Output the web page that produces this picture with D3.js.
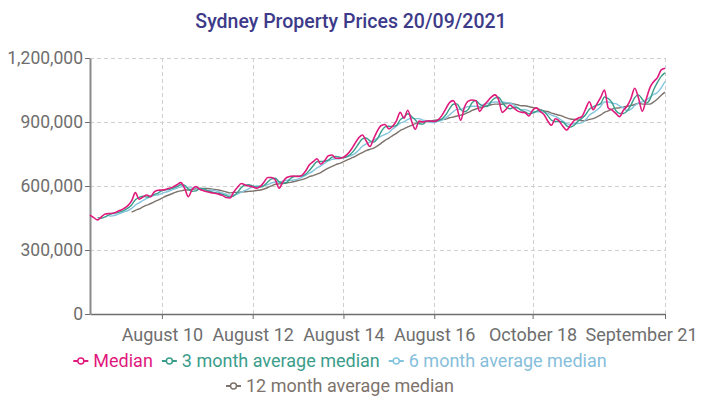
<!DOCTYPE html>
<html>
<head>
<meta charset="utf-8">
<script src="https://cdn.jsdelivr.net/npm/d3@7/dist/d3.min.js"></script>
<style>
html,body{margin:0;padding:0;background:#fff;}
svg{display:block;font-family:Roboto,"Noto Sans",sans-serif;}
</style>
</head>
<body>
<svg id="chart" width="708" height="402"></svg>
<script>
// ---- data (values in thousands of AUD, monthly Jan 2009 – Sep 2021) ----
const startMonth = new Date(2009, 0, 1);
const endMonth = new Date(2021, 8, 1);
const tickMonths = ["August 10","August 12","August 14","August 16","October 18","September 21"];
const yTicks = [0, 300000, 600000, 900000, 1200000];
const seriesNames = ["Median","3 month average median","6 month average median","12 month average median"];
const seriesColors = ["#e0197d","#3a9d8b","#82c4de","#7d736c"];
const legendTextColors = ["#e0197d","#3a9d8b","#86bedb","#7d736c"];

const median = [464,452,441,455,469,471,472,478,486,495,508,530,569,538,548,558,550,572,580,581,584,589,596,606,616,590,550,584,597,585,578,573,569,566,562,556,546,544,572,594,612,605,600,596,590,598,618,640,640,628,590,620,640,645,647,645,650,670,700,714,728,702,718,742,745,730,730,735,748,770,798,825,839,812,785,822,860,884,888,868,880,905,945,918,955,905,866,905,900,905,905,903,910,930,960,990,1000,966,908,970,998,1003,1000,950,975,995,1015,1027,1005,945,960,980,966,952,946,944,928,955,966,950,935,905,885,915,905,880,862,885,907,918,925,960,995,958,985,1015,1050,966,956,940,925,955,975,1010,1058,1012,950,1005,1060,1089,1108,1144,1152];

const avg3 = [null,null,452,449,455,465,471,474,479,486,496,511,536,546,552,548,552,560,567,578,582,585,590,597,606,604,585,575,577,589,587,579,573,569,566,561,555,549,554,570,593,604,606,600,595,595,602,619,633,636,619,613,617,635,644,646,647,655,673,695,714,715,716,721,735,739,735,732,738,751,772,798,821,825,812,806,822,855,877,880,879,884,910,923,939,926,909,892,890,903,903,904,906,914,933,960,983,985,958,948,959,990,1000,984,975,973,995,1012,1016,992,970,962,969,966,955,947,939,942,950,957,950,930,908,902,902,900,882,876,885,903,917,934,960,971,979,986,1017,1010,991,954,940,940,952,980,1014,1027,1007,989,1005,1051,1086,1114,1130];

const avg6 = [null,null,null,null,null,459,460,465,472,479,485,495,511,521,532,542,549,556,558,565,571,576,584,590,596,597,591,591,590,587,581,578,581,578,572,567,562,557,558,562,571,579,588,596,600,600,601,607,614,619,619,623,627,627,628,632,641,650,660,671,685,694,706,718,725,728,728,734,738,743,752,768,786,798,805,814,824,834,842,851,867,880,895,901,912,918,916,916,908,906,898,897,904,908,918,933,948,959,959,966,972,974,974,972,982,986,990,994,994,994,991,989,980,968,958,958,952,948,948,948,946,940,932,926,916,904,892,889,892,893,896,910,932,944,956,973,994,994,988,986,975,966,953,960,977,990,994,1002,1016,1029,1038,1060,1090];

const avg12 = [null,null,null,null,null,null,null,null,null,null,null,478,486,493,502,510,517,526,534,543,552,559,566,573,577,581,581,584,587,588,588,588,586,584,581,577,572,568,570,570,572,573,575,576,579,581,586,593,601,608,610,612,614,617,621,626,630,636,644,649,656,663,674,684,692,700,706,714,722,730,738,748,757,766,772,778,788,801,814,824,836,847,860,868,877,884,892,898,902,904,905,908,910,912,913,920,923,928,932,937,945,954,961,966,970,976,981,984,984,983,986,988,985,981,976,976,972,968,964,958,952,949,942,937,932,926,919,914,912,910,906,907,912,916,924,933,945,952,960,965,966,970,974,977,982,988,984,984,984,994,1008,1025,1040];

const seriesValues = [median, avg3, avg6, avg12];

// ---- layout ----
const svg = d3.select("#chart");
const m = {left: 90, right: 665, top: 58, bottom: 314};
const fmtMonth = d3.timeFormat("%B %y");
const months = d3.timeMonth.range(startMonth, d3.timeMonth.offset(endMonth, 1)).map(fmtMonth);

const x = d3.scalePoint().domain(months).range([m.left, m.right]);
const y = d3.scaleLinear().domain([0, 1200000]).range([m.bottom, m.top]);

// title
svg.append("text")
  .attr("x", 351).attr("y", 28)
  .attr("text-anchor", "middle")
  .attr("font-size", 19.5).attr("font-weight", 500)
  .attr("fill", "#3d3a8a")
  .text("Sydney Property Prices 20/09/2021");

// grid
const grid = svg.append("g").attr("stroke", "#d0d0d0").attr("stroke-dasharray", "4,3").attr("stroke-width", 1);
yTicks.filter(d => d > 0).forEach(v => {
  grid.append("line").attr("x1", m.left).attr("x2", m.right)
    .attr("y1", Math.round(y(v)) + 0.5).attr("y2", Math.round(y(v)) + 0.5);
});
tickMonths.forEach(t => {
  grid.append("line").attr("y1", m.top).attr("y2", m.bottom)
    .attr("x1", Math.round(x(t)) + 0.5).attr("x2", Math.round(x(t)) + 0.5);
});

// axes
const xAxis = d3.axisBottom(x).tickValues(tickMonths).tickSize(5).tickSizeOuter(0);
const gx = svg.append("g").attr("transform", `translate(0,${m.bottom})`).call(xAxis);
gx.select(".domain").attr("stroke", "#6e6e6e").attr("stroke-width", 1.5);
gx.selectAll(".tick line").attr("stroke", "#6e6e6e");
gx.selectAll(".tick text").attr("fill", "#6e6e6e").attr("font-size", 18).attr("font-family", "Roboto").attr("dy", "1.05em");
// keep the last label inside the picture, as the reference does
gx.selectAll(".tick text").filter(d => d === tickMonths[tickMonths.length - 1])
  .attr("text-anchor", "end").attr("x", 697 - m.right);

const yAxis = d3.axisLeft(y).tickValues(yTicks).tickFormat(d3.format(",")).tickSize(5).tickSizeOuter(0);
const gy = svg.append("g").attr("transform", `translate(${m.left},0)`).call(yAxis);
gy.select(".domain").attr("stroke", "#8a8a8a").attr("stroke-width", 2);
gy.selectAll(".tick line").attr("stroke", "#6e6e6e");
gy.selectAll(".tick text").attr("fill", "#6e6e6e").attr("font-size", 17.5).attr("font-family", "Roboto").attr("x", -7);

// lines
const line = d3.line()
  .defined(d => d[1] != null)
  .x(d => x(d[0]))
  .y(d => y(d[1] * 1000))
  .curve(d3.curveMonotoneX);

[3,2,1,0].forEach(i => {
  const pts = months.map((mo, k) => [mo, seriesValues[i][k]]);
  svg.append("path").datum(pts)
    .attr("fill", "none")
    .attr("stroke", seriesColors[i])
    .attr("stroke-width", i === 0 ? 1.6 : 1.4)
    .attr("d", line);
});

// legend
const legendRows = [[0,1,2],[3]];
const legendCenter = 340;
const rowY = [361, 386];
legendRows.forEach((row, r) => {
  const g = svg.append("g");
  let cx = 0;
  row.forEach(i => {
    const item = g.append("g").attr("transform", `translate(${cx},0)`);
    item.append("line").attr("x1", 0).attr("x2", 15).attr("y1", 0).attr("y2", 0)
      .attr("stroke", seriesColors[i]).attr("stroke-width", 2);
    item.append("circle").attr("cx", 7.5).attr("cy", 0).attr("r", 3)
      .attr("fill", "#fff").attr("stroke", seriesColors[i]).attr("stroke-width", 1.5);
    const t = item.append("text").attr("x", 20).attr("y", 0).attr("dy", "0.35em")
      .attr("font-size", 18).attr("fill", legendTextColors[i])
      .text(seriesNames[i]);
    cx += 20 + t.node().getComputedTextLength() + 9;
  });
  const total = cx - 9;
  g.attr("transform", `translate(${legendCenter - total / 2},${rowY[r]})`);
});
</script>
</body>
</html>
